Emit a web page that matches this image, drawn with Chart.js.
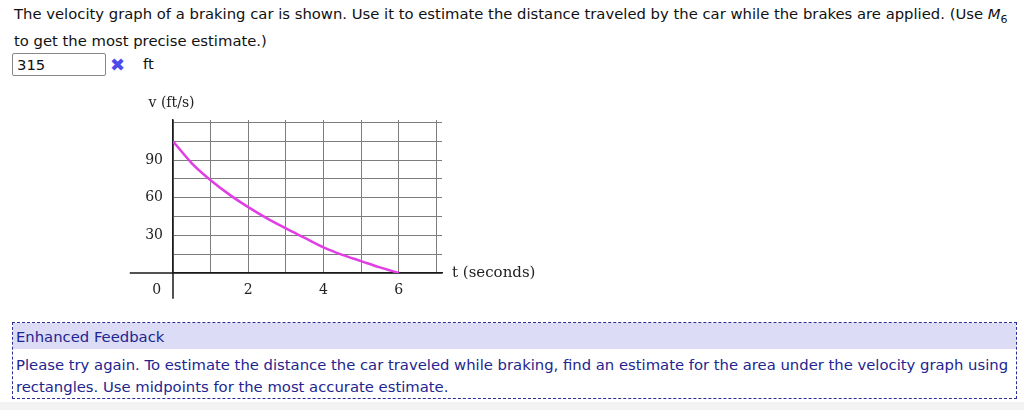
<!DOCTYPE html>
<html>
<head>
<meta charset="utf-8">
<script src="https://cdn.jsdelivr.net/npm/chart.js@4"></script>
<style>
  html,body{margin:0;padding:0;background:#fff;}
  body{width:1024px;height:410px;position:relative;overflow:hidden;font-family:"DejaVu Sans",Verdana,sans-serif;color:#111;}
  .q{position:absolute;left:14px;font-size:14.8px;white-space:nowrap;}
  .ans{position:absolute;left:12px;top:53px;border:1px solid #888;border-radius:2px;font-size:14.8px;line-height:21px;padding-left:4px;box-sizing:border-box;width:94px;height:23px;}
  .bad{position:absolute;left:110px;top:54px;color:#4b4bea;font-size:18px;}
  .unit{position:absolute;left:143px;top:55px;font-size:14.8px;}
  #wrap{position:absolute;left:110px;top:90px;width:450px;height:220px;}
  .fb{position:absolute;left:12px;top:322px;width:1005px;height:77px;border:1px dashed #2b2f95;box-sizing:border-box;color:#1e2590;font-size:14.8px;}
  .fbh{background:#dcdcf7;height:26px;line-height:28px;padding-left:3px;}
  .fbb{padding-left:3px;line-height:22px;margin-top:5px;white-space:nowrap;}
  .floor{position:absolute;left:0;top:402px;width:1024px;height:8px;background:#f3f3f3;}
</style>
</head>
<body>
<div class="q" style="top:5px">The velocity graph of a braking car is shown. Use it to estimate the distance traveled by the car while the brakes are applied. (Use <i>M</i><sub style="font-size:11px">6</sub></div>
<div class="q" style="top:32px">to get the most precise estimate.)</div>
<div class="ans">315</div>
<div class="bad">✖</div>
<div class="unit">ft</div>
<div id="wrap"><canvas id="chart" width="450" height="220"></canvas></div>
<div class="fb">
  <div class="fbh">Enhanced Feedback</div>
  <div class="fbb">Please try again. To estimate the distance the car traveled while braking, find an estimate for the area under the velocity graph using<br>rectangles. Use midpoints for the most accurate estimate.</div>
</div>
<div class="floor"></div>
<script>
// velocity curve (t in seconds, v in ft/s)
const tSeconds = [0, 0.5, 1, 1.5, 2, 2.5, 3, 3.5, 4, 4.5, 5, 5.5, 6];
const velocity = [105, 87.5, 74, 62.5, 52.5, 43.5, 35.5, 28, 20.5, 14.5, 9.5, 4.5, 0];
const xLabels = [2, 4, 6];
const yLabels = [30, 60, 90];
const xTitle = 't (seconds)';
const yTitle = 'v (ft/s)';

const serif = '"DejaVu Serif","Liberation Serif",serif';

// axis stubs left/below the origin plus the titles
const extras = {
  id:'extras',
  afterDraw(chart){
    const {ctx, scales:{x, y}} = chart;
    const x0 = x.getPixelForValue(0), y0 = y.getPixelForValue(0);
    ctx.save();
    ctx.strokeStyle = '#1a1a1a';
    ctx.lineWidth = 1.5;
    ctx.beginPath();
    ctx.moveTo(x.getPixelForValue(-1.15), y0); ctx.lineTo(x0, y0);
    ctx.moveTo(x0, y0); ctx.lineTo(x0, y.getPixelForValue(-20.5));
    ctx.stroke();
    ctx.fillStyle = '#222';
    ctx.font = '14px ' + serif;
    ctx.textAlign = 'center'; ctx.textBaseline = 'middle';
    ctx.fillText('0', x.getPixelForValue(-0.43), y.getPixelForValue(-13.5));
    ctx.textAlign = 'left';
    ctx.fillText(yTitle, x.getPixelForValue(-0.65), y.getPixelForValue(135));
    ctx.font = '15px ' + serif;
    ctx.fillText(xTitle, x.right + 10, y0);
    ctx.restore();
  }
};

new Chart(document.getElementById('chart'), {
  type:'line',
  data:{
    datasets:[{
      data: tSeconds.map((t,i)=>({x:t, y:velocity[i]})),
      borderColor:'#e23ee6',
      borderWidth:2.5,
      pointRadius:0,
      cubicInterpolationMode:'monotone',
      fill:false
    }]
  },
  options:{
    responsive:false,
    animation:false,
    devicePixelRatio:1,
    layout:{padding:{left:0, right:118, top:30, bottom:0}},
    plugins:{legend:{display:false}, tooltip:{enabled:false}},
    scales:{
      x:{
        type:'linear', min:0, max:7.15,
        afterFit(s){ s.height = 37; },
        grid:{color:'#7d7d7d', lineWidth:1, drawTicks:false},
        border:{color:'#1a1a1a', width:1.5},
        ticks:{stepSize:1, includeBounds:false, padding:9, maxRotation:0, autoSkip:false,
          color:'#222', font:{family:serif, size:14},
          callback:v => xLabels.includes(v) ? String(v) : ''}
      },
      y:{
        type:'linear', min:0, max:122,
        afterFit(s){ s.width = 63; },
        grid:{color:'#7d7d7d', lineWidth:1, drawTicks:false},
        border:{color:'#1a1a1a', width:1.5},
        ticks:{stepSize:15, includeBounds:false, padding:10, autoSkip:false,
          color:'#222', font:{family:serif, size:14},
          callback:v => yLabels.includes(v) ? String(v) : ''}
      }
    }
  },
  plugins:[extras]
});
</script>
</body>
</html>
